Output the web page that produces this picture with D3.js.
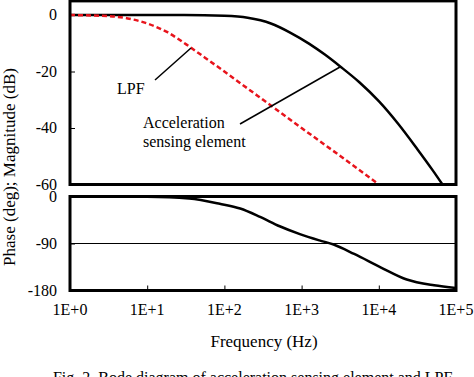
<!DOCTYPE html>
<html>
<head>
<meta charset="utf-8">
<script src="https://cdn.jsdelivr.net/npm/d3@7"></script>
<style>
  body { margin: 0; background: #fff; }
  text { font-family: "Liberation Serif", "Times New Roman", serif; fill: #000; }
</style>
</head>
<body>
<div id="chart"></div>
<script>
/* Bode diagram: acceleration sensing element + LPF */

// frequencies in Hz
const lpfFreq = [1, 3.2, 5.6, 10, 18, 32, 56, 100, 180, 320, 1000, 3200, 10000];
const lpfMag = [0, -0.4, -1.2, -3.0, -6.0, -10.4, -15.1, -20.0, -25.1, -30.1, -40.0, -50.0, -60.0];

const sensFreq = [1, 30, 100, 200, 400, 710, 1260, 2000, 3160, 5600, 10000, 17800, 31600, 50000, 67600];
const sensMag = [0, 0, -0.3, -1.0, -3.0, -6.2, -10.2, -14.0, -18.2, -23.8, -30.5, -38.5, -47.5, -55.0, -60.2];

const phaseFreq = [1, 10, 35, 87, 160, 290, 520, 950, 1700, 2600, 4800, 10700, 23000, 52000, 100000];
const phaseDeg = [0, -0.5, -4, -14, -23, -39, -57, -72, -84, -92, -110, -136, -159, -170, -175];

const xTicks = [1, 10, 100, 1000, 10000, 100000];
const xTickLabels = ["1E+0", "1E+1", "1E+2", "1E+3", "1E+4", "1E+5"];
const magTicks = [0, -20, -40, -60];
const phaseTicks = [0, -90, -180];

const width = 474, height = 377;

const svg = d3.select("#chart")
  .append("svg")
  .attr("width", width)
  .attr("height", height);

const x = d3.scaleLog().domain([1, 1e5]).range([70, 456]);
const yMag = d3.scaleLinear().domain([-60, 5]).range([184.5, 0.9]);
const yPh = d3.scaleLinear().domain([-180, 0]).range([290.5, 196.5]);

// clip paths so curves stay inside the boxes
const defs = svg.append("defs");
defs.append("clipPath").attr("id", "clipMag")
  .append("rect")
  .attr("x", x(1)).attr("y", yMag(5))
  .attr("width", x(1e5) - x(1)).attr("height", yMag(-60) - yMag(5));
defs.append("clipPath").attr("id", "clipPh")
  .append("rect")
  .attr("x", x(1)).attr("y", yPh(0))
  .attr("width", x(1e5) - x(1)).attr("height", yPh(-180) - yPh(0));

// -90 gridline
svg.append("line")
  .attr("x1", x(1)).attr("x2", x(1e5))
  .attr("y1", yPh(-90)).attr("y2", yPh(-90))
  .attr("stroke", "#000").attr("stroke-width", 1);

// inward ticks
svg.append("g")
  .attr("transform", `translate(${x(1)},0)`)
  .call(d3.axisLeft(yMag).tickValues(magTicks).tickSize(-5).tickFormat(""))
  .call(g => g.select(".domain").remove());
svg.append("g")
  .attr("transform", `translate(${x(1)},0)`)
  .call(d3.axisLeft(yPh).tickValues(phaseTicks).tickSize(-5).tickFormat(""))
  .call(g => g.select(".domain").remove());
svg.append("g")
  .attr("transform", `translate(0,${yPh(-180)})`)
  .call(d3.axisBottom(x).tickValues(xTicks).tickSize(-5).tickFormat(""))
  .call(g => g.select(".domain").remove());

// tick labels
svg.append("g").selectAll("text")
  .data(magTicks)
  .join("text")
  .attr("x", 57)
  .attr("y", d => yMag(d))
  .attr("dy", "0.33em")
  .attr("text-anchor", "end")
  .attr("font-size", 16)
  .text(d => d);

svg.append("g").selectAll("text")
  .data(phaseTicks)
  .join("text")
  .attr("x", 57)
  .attr("y", d => yPh(d))
  .attr("dy", "0.33em")
  .attr("text-anchor", "end")
  .attr("font-size", 16)
  .text(d => d);

svg.append("g").selectAll("text")
  .data(xTicks)
  .join("text")
  .attr("x", d => x(d))
  .attr("y", 315)
  .attr("text-anchor", "middle")
  .attr("font-size", 16)
  .text((d, i) => xTickLabels[i]);

// curves
const line = (fr, vals, y) => d3.line()
  .x((d, i) => x(fr[i]))
  .y(d => y(d))
  .curve(d3.curveMonotoneX)(vals);

svg.append("path")
  .attr("clip-path", "url(#clipMag)")
  .attr("d", line(sensFreq, sensMag, yMag))
  .attr("fill", "none")
  .attr("stroke", "#000")
  .attr("stroke-width", 2.5);

svg.append("path")
  .attr("clip-path", "url(#clipMag)")
  .attr("d", line(lpfFreq, lpfMag, yMag))
  .attr("fill", "none")
  .attr("stroke", "#e8141c")
  .attr("stroke-width", 2.5)
  .attr("stroke-dasharray", "5,3");

svg.append("path")
  .attr("clip-path", "url(#clipPh)")
  .attr("d", line(phaseFreq, phaseDeg, yPh))
  .attr("fill", "none")
  .attr("stroke", "#000")
  .attr("stroke-width", 2.5);

// boxes
svg.append("rect")
  .attr("x", x(1)).attr("y", yMag(5))
  .attr("width", x(1e5) - x(1)).attr("height", yMag(-60) - yMag(5))
  .attr("fill", "none").attr("stroke", "#000").attr("stroke-width", 3);
svg.append("rect")
  .attr("x", x(1)).attr("y", yPh(0))
  .attr("width", x(1e5) - x(1)).attr("height", yPh(-180) - yPh(0))
  .attr("fill", "none").attr("stroke", "#000").attr("stroke-width", 3);

// annotations
svg.append("line")
  .attr("x1", 155).attr("y1", 80).attr("x2", 191).attr("y2", 48)
  .attr("stroke", "#000").attr("stroke-width", 1.5);
svg.append("text")
  .attr("x", 117).attr("y", 94)
  .attr("font-size", 16)
  .text("LPF");

svg.append("line")
  .attr("x1", 240).attr("y1", 124).attr("x2", 340).attr("y2", 67)
  .attr("stroke", "#000").attr("stroke-width", 1.5);
svg.append("text")
  .attr("x", 143).attr("y", 128)
  .attr("font-size", 16)
  .text("Acceleration");
svg.append("text")
  .attr("x", 143).attr("y", 147)
  .attr("font-size", 16)
  .text("sensing element");

// axis titles
svg.append("text")
  .attr("x", 264).attr("y", 347)
  .attr("text-anchor", "middle")
  .attr("font-size", 17)
  .text("Frequency (Hz)");

svg.append("text")
  .attr("transform", "translate(15,167) rotate(-90)")
  .attr("text-anchor", "middle")
  .attr("font-size", 17)
  .text("Phase (deg); Magnitude (dB)");

// caption (cut off at the bottom edge, as in the figure)
svg.append("text")
  .attr("x", 254).attr("y", 383)
  .attr("text-anchor", "middle")
  .attr("font-size", 16)
  .text("Fig. 2. Bode diagram of acceleration sensing element and LPF.");
</script>
</body>
</html>
